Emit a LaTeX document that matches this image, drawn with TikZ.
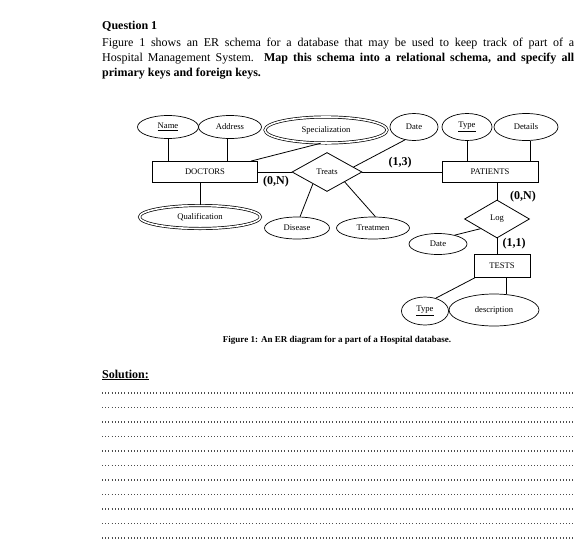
\documentclass[tikz,border=0pt]{standalone}
\usepackage{fontspec}
\setmainfont{Liberation Serif}
\usetikzlibrary{shapes.geometric,calc}
\begin{document}
\begin{tikzpicture}[x=1pt,y=-1pt,
  attr/.style={ellipse,draw,line width=0.7pt,inner sep=0pt,font=\fontsize{8.6}{9}\selectfont},
  dattr/.style={attr,double,double distance=1.6pt},
  ent/.style={rectangle,draw,line width=0.8pt,inner sep=0pt,font=\fontsize{8.6}{9}\selectfont},
  rel/.style={diamond,draw,line width=0.8pt,inner sep=0pt,font=\fontsize{8.6}{9}\selectfont},
  card/.style={font=\bfseries\fontsize{12}{13}\selectfont,inner sep=0pt},
  conn/.style={line width=0.8pt},
  dotline/.style={line width=1.1pt,gray!60!black,dash pattern=on 1pt off 2.2pt}]
\useasboundingbox (0,0) rectangle (580,552);
\fill[white] (0,0) rectangle (580,552);

% header text
\node[anchor=base west,inner sep=0pt,font=\bfseries\fontsize{12}{14}\selectfont] (q) at (102,29) {Question 1};
\node[anchor=north west,inner sep=0pt,text width=472pt,align=justify,font=\fontsize{12}{15}\selectfont] (para) at (102,38)
 {Figure 1 shows an ER schema for a database that may be used to keep track of part of a\linebreak Hospital Management System. \textbf{Map this schema into a relational schema, and specify all\linebreak primary keys and foreign keys.}};

% entities
\node[ent,minimum width=105pt,minimum height=21pt] (doc) at (205,172) {DOCTORS};
\node[ent,minimum width=96pt,minimum height=21pt] (pat) at (490,172) {PATIENTS};
\node[ent,minimum width=56pt,minimum height=23pt] (tests) at (502,266) {TESTS};

% relationships
\node[rel,minimum width=70pt,minimum height=39pt,aspect=1.8] (treats) at (327,172) {Treats};
\node[rel,minimum width=65pt,minimum height=38pt,aspect=1.7] (log) at (497,219) {Log};

% attributes
\node[attr,minimum width=61pt,minimum height=23pt] (name) at (168,127) {\underline{Name}};
\node[attr,minimum width=63pt,minimum height=23pt] (addr) at (230,127) {Address};
\node[dattr,minimum width=122pt,minimum height=26pt] (spec) at (326,130) {Specialization};
\node[attr,minimum width=48pt,minimum height=27pt] (tdate) at (414,127) {Date};
\node[attr,minimum width=50pt,minimum height=27pt] (ptype) at (467,127) {\underline{Type}};
\node[attr,minimum width=64pt,minimum height=27pt] (det) at (526,127) {Details};
\node[dattr,minimum width=121pt,minimum height=23pt] (qual) at (200,217) {Qualification};
\node[attr,minimum width=65pt,minimum height=22pt] (dis) at (297,228) {Disease};
\node[attr,minimum width=73pt,minimum height=22pt] (trt) at (373,228) {Treatmen};
\node[attr,minimum width=58pt,minimum height=21pt] (ldate) at (438,244) {Date};
\node[attr,minimum width=47pt,minimum height=28pt] (ttype) at (425,311) {\underline{Type}};
\node[attr,minimum width=90pt,minimum height=32pt] (desc) at (494,310) {description};

% cardinalities
\node[card] (c1) at (276,182) {(0,N)};
\node[card] (c2) at (400,163) {(1,3)};
\node[card] (c3) at (523,197) {(0,N)};
\node[card] (c4) at (514,244) {(1,1)};

% connectors
\draw[conn] (name.south) -- (name.south |- doc.north);
\draw[conn] ([xshift=-3pt]addr.south) -- ([xshift=-3pt]addr.south |- doc.north);
\draw[conn] (spec.248) -- ([xshift=-7pt]doc.north east);
\draw[conn] (qual.north) -- (qual.north |- doc.south);
\draw[conn] (doc.east) -- (treats.west);
\draw[conn] (treats.east) -- (pat.west);
\draw[conn] ($(treats.east)!0.25!(treats.north)$) -- (tdate.235);
\draw[conn] ($(treats.south west)!0.2!(treats.south)$) -- (dis.75);
\draw[conn] (treats.south east) -- (trt.78);
\draw[conn] (ptype.south) -- (ptype.south |- pat.north);
\draw[conn] ([xshift=4pt]det.south) -- ([xshift=4pt]det.south |- pat.north);
\draw[conn] (log.north) -- (log.north |- pat.south);
\draw[conn] (log.south west) -- (ldate.28);
\draw[conn] (log.south) -- (log.south |- tests.north);
\draw[conn] ([xshift=1pt]tests.south west) -- (ttype.50);
\draw[conn] ([xshift=4pt]tests.south) -- ([xshift=4pt]tests.south |- desc.north);

% caption
\node[anchor=base,inner sep=0pt,font=\bfseries\fontsize{9}{11}\selectfont] (cap) at (337,342) {Figure 1: An ER diagram for a part of a Hospital database.};

% solution
\node[anchor=base west,inner sep=0pt,font=\bfseries\fontsize{12}{14}\selectfont] (sol) at (102,378) {\underline{Solution:}};
\foreach \i in {0,...,10}{
  \draw[dotline] (102,393+\i*14.5) -- (575,393+\i*14.5);
}
\end{tikzpicture}
\end{document}
